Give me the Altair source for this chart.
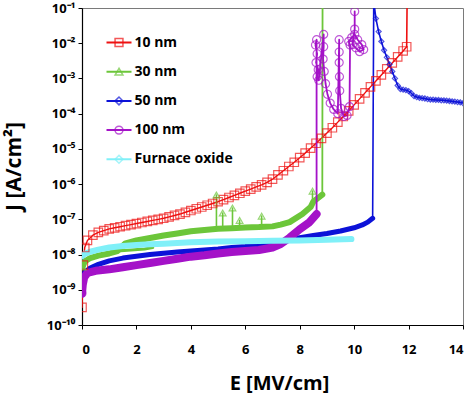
import altair as alt
import pandas as pd

SERIES = ["10 nm", "30 nm", "50 nm", "100 nm", "Furnace oxide"]
COLORS = ["#EE1111", "#6CC63A", "#0C12D8", "#A412C8", "#80F0F8"]
SHAPES = ["square", "triangle-up", "diamond", "circle", "diamond"]
MARK_SIZE = [72, 45, 26, 65, 20]

X_TICKS = list(range(0, 15))
Y_TICKS = [1e-10, 1e-9, 1e-8, 1e-7, 1e-6, 1e-5, 1e-4, 1e-3, 1e-2, 1e-1]

# 10 nm (log10 J)
RED_E = [0.0, 0.05, 0.1, 0.2, 0.4, 0.6, 0.8, 1.0, 1.2, 1.4, 1.6, 1.8, 2.0, 2.2, 2.4, 2.6, 2.8,
         3.0, 3.2, 3.4, 3.6, 3.8, 4.0, 4.2, 4.4, 4.6, 4.8, 5.0, 5.2, 5.4, 5.6, 5.8, 6.0, 6.2,
         6.4, 6.6, 6.8, 7.0, 7.2, 7.4, 7.6, 7.8, 8.0, 8.2, 8.4, 8.6, 8.8, 9.0, 9.2, 9.4, 9.6,
         9.8, 10.0, 10.2, 10.4, 10.6, 10.8, 11.0, 11.2, 11.4, 11.6, 11.8, 11.93]
RED_LOGJ = [-9.5, -8.3, -7.8, -7.6, -7.45, -7.37, -7.32, -7.27, -7.24, -7.21, -7.18, -7.15,
            -7.12, -7.09, -7.06, -7.03, -7.0, -6.97, -6.93, -6.89, -6.85, -6.8, -6.75, -6.7,
            -6.65, -6.6, -6.55, -6.5, -6.44, -6.38, -6.32, -6.26, -6.2, -6.14, -6.08, -6.02,
            -5.95, -5.86, -5.74, -5.62, -5.5, -5.38, -5.25, -5.12, -4.98, -4.84, -4.7, -4.55,
            -4.4, -4.24, -4.08, -3.92, -3.75, -3.58, -3.41, -3.24, -3.07, -2.9, -2.73, -2.56,
            -2.39, -2.22, -2.1]
RED_BD_E = [11.93, 11.95]
RED_BD_LOGJ = [-2.1, -0.5]

# 30 nm
GREEN_E = [0.02, 0.1, 0.3, 0.6, 1.0, 1.3, 1.6, 2.0, 2.5, 3.0, 3.5, 4.0, 4.5, 5.0, 5.5, 6.0,
           6.5, 7.0, 7.3, 7.63, 8.1, 8.4, 8.5, 8.7, 8.83]
GREEN_LOGJ = [-8.35, -8.2, -8.1, -8.03, -7.97, -7.9, -7.68, -7.6, -7.53, -7.46, -7.4, -7.34,
              -7.3, -7.27, -7.25, -7.23, -7.22, -7.2, -7.15, -7.08, -6.85, -6.65, -6.5,
              -6.38, -6.3]
GREEN_LOW_E = [1.3, 1.8, 2.3, 2.6]
GREEN_LOW_LOGJ = [-7.9, -7.87, -7.84, -7.8]
SPIKE_E = [4.94, 5.17, 5.53, 5.79, 6.6, 8.47]
SPIKE_BASE = [-7.27, -7.26, -7.25, -7.24, -7.21, -6.55]
SPIKE_TOP = [-6.31, -6.82, -6.68, -7.03, -6.91, -6.2]
GREEN_BD_E = [8.83, 8.84]
GREEN_BD_LOGJ = [-6.3, -0.5]

# 50 nm
BLUE_E = [0.02, 0.1, 0.3, 0.6, 1.0, 1.5, 2.0, 2.5, 3.0, 3.5, 4.0, 4.5, 5.0, 5.5, 6.0, 6.5,
          7.0, 7.5, 8.0, 8.5, 9.0, 9.5, 10.0, 10.3, 10.5, 10.68]
BLUE_LOGJ = [-8.8, -8.5, -8.38, -8.28, -8.18, -8.1, -8.05, -8.0, -7.96, -7.93, -7.9, -7.87,
             -7.84, -7.8, -7.77, -7.73, -7.68, -7.6, -7.52, -7.46, -7.4, -7.33, -7.24,
             -7.16, -7.08, -6.97]
BLUE_BD_E = [10.68, 10.72, 10.8, 10.9, 11.0, 11.1, 11.2, 11.3, 11.4, 11.5, 11.6, 11.7,
             11.8, 11.9, 12.0, 12.1, 12.2, 12.3, 12.4, 12.5, 12.6, 12.7, 12.8, 12.9, 13.0,
             13.1, 13.2, 13.3, 13.4, 13.5, 13.6, 13.7, 13.8, 13.9, 14.0]
BLUE_BD_LOGJ = [-6.97, -0.8, -1.3, -1.67, -1.95, -2.2, -2.4, -2.6, -2.8, -3.0, -3.2, -3.3,
                -3.32, -3.33, -3.36, -3.42, -3.5, -3.53, -3.55, -3.56, -3.57, -3.59, -3.6,
                -3.6, -3.61, -3.61, -3.62, -3.62, -3.63, -3.64, -3.65, -3.66, -3.67, -3.68,
                -3.7]

# 100 nm
PURPLE_E = [0.0, 0.03, 0.08, 0.2, 0.5, 1.0, 1.5, 2.0, 2.5, 3.0, 3.5, 4.0, 4.5, 5.0, 5.5,
            6.0, 6.5, 7.0, 7.3, 7.63, 8.0, 8.36, 8.62]
PURPLE_LOGJ = [-9.1, -8.85, -8.65, -8.52, -8.46, -8.42, -8.36, -8.3, -8.24, -8.18, -8.12,
               -8.06, -8.02, -7.97, -7.93, -7.9, -7.87, -7.8, -7.7, -7.52, -7.28, -7.08,
               -6.85]
PURPLE_BD_E = [8.62, 8.62, 8.58, 8.64, 8.60, 8.68, 8.64, 8.70, 8.88, 8.88, 8.86, 8.90,
               8.95, 9.02, 9.12, 9.25, 9.40, 9.45, 9.45, 9.45, 9.46, 9.47, 9.52, 9.62,
               9.74, 9.83, 9.85, 9.80, 9.91, 10.02, 10.13, 10.28, 10.35, 10.20, 10.06,
               9.94, 10.02, 10.02]
PURPLE_BD_LOGJ = [-6.85, -1.9, -2.05, -2.3, -2.55, -2.75, -2.95, -3.05, -1.75, -2.1, -2.45,
                  -2.8, -3.15, -3.45, -3.7, -3.88, -4.0, -1.9, -2.25, -2.55, -2.95, -3.35,
                  -3.85, -4.08, -4.05, -3.8, -2.05, -1.95, -1.84, -1.75, -1.9, -2.04,
                  -2.18, -2.24, -2.13, -2.04, -1.6, -1.1]

# Furnace oxide
CYAN_E = [0.0, 0.1, 0.3, 0.6, 1.0, 1.5, 2.0, 2.5, 3.0, 3.5, 4.0, 5.0, 6.0, 7.0, 8.0, 9.0, 9.9]
CYAN_LOGJ = [-8.05, -7.98, -7.92, -7.86, -7.8, -7.76, -7.73, -7.71, -7.69, -7.67, -7.65,
             -7.63, -7.62, -7.61, -7.6, -7.58, -7.56]

rows = []
seg_id = [0]


def add(series_idx, es, ls, width, marks):
    assert len(es) == len(ls)
    seg_id[0] += 1
    for k, (e, l) in enumerate(zip(es, ls)):
        rows.append({
            "series": SERIES[series_idx],
            "pt": SERIES[series_idx] + " ",
            "seg": seg_id[0],
            "i": len(rows),
            "E": e,
            "J": 10 ** l,
            "w": width,
            "m": bool(marks[k]) if isinstance(marks, list) else bool(marks),
            "sz": MARK_SIZE[series_idx],
        })


add(0, RED_E, RED_LOGJ, 1.4, True)
add(0, RED_BD_E, RED_BD_LOGJ, 1.6, False)
add(1, GREEN_E, GREEN_LOGJ, 6, [k == 0 for k in range(len(GREEN_E))])
add(1, GREEN_LOW_E, GREEN_LOW_LOGJ, 3, False)
for e, b, t in zip(SPIKE_E, SPIKE_BASE, SPIKE_TOP):
    add(1, [e, e], [b, t], 1.6, [False, True])
add(1, GREEN_BD_E, GREEN_BD_LOGJ, 1.8, False)
add(2, BLUE_E, BLUE_LOGJ, 5, False)
add(2, BLUE_BD_E, BLUE_BD_LOGJ, 1.6, [k >= 2 for k in range(len(BLUE_BD_E))])
add(3, PURPLE_E, PURPLE_LOGJ, 8, [k == 0 for k in range(len(PURPLE_E))])
add(3, PURPLE_BD_E, PURPLE_BD_LOGJ, 1.8, [k >= 1 for k in range(len(PURPLE_BD_E))])
add(4, CYAN_E, CYAN_LOGJ, 6, False)

df = pd.DataFrame(rows)

FONT = "Open Sans"

x_enc = alt.X("E:Q", scale=alt.Scale(domain=[0, 14], nice=False),
              axis=alt.Axis(values=X_TICKS, title="E [MV/cm]",
                            labelExpr="datum.value % 2 == 0 ? datum.label : ''",
                            labelFont=FONT, labelFontSize=13, labelFontWeight="bold",
                            labelPadding=14, titleFont=FONT, titleFontSize=20,
                            titleFontWeight="bold", titleBaseline="middle",
                            titleX=197, titleY=58))
y_enc = alt.Y("J:Q", scale=alt.Scale(type="log", domain=[1e-10, 1e-1], nice=False),
              axis=alt.Axis(values=Y_TICKS, title="J [A/cm²]",
                            labelExpr="'10' + ['⁻¹','⁻²','⁻³','⁻⁴','⁻⁵','⁻⁶','⁻⁷','⁻⁸','⁻⁹','⁻¹⁰'][round(-log(datum.value)/LN10) - 1]",
                            labelFont=FONT, labelFontSize=13, labelFontWeight="bold",
                            labelPadding=3, titleFont=FONT, titleFontSize=21,
                            titleFontWeight="bold", titleBaseline="middle",
                            titleX=-68, titleY=158))

base = alt.Chart(df)

lines = base.mark_line(clip=True, strokeCap="round", strokeJoin="round").encode(
    x=x_enc, y=y_enc,
    color=alt.Color("series:N", scale=alt.Scale(domain=SERIES, range=COLORS),
                    legend=alt.Legend(orient="none", legendX=23.5, legendY=20.5, title=None,
                                      symbolType="stroke", symbolSize=625,
                                      symbolStrokeWidth=2, labelFont=FONT,
                                      labelFontSize=14, labelFontWeight="bold",
                                      labelOffset=2, clipHeight=28, rowPadding=1.2,
                                      padding=0)),
    detail="seg:N",
    order="i:Q",
    strokeWidth=alt.StrokeWidth("w:Q", scale=None),
)

PT = [s + " " for s in SERIES]
pt_legend = alt.Legend(orient="none", legendX=30, legendY=20.5, title=None,
                       symbolSize=62, symbolStrokeWidth=1.5, symbolFillColor="white",
                       labelFont=FONT, labelFontSize=14, labelFontWeight="bold",
                       labelExpr="''", clipHeight=28, rowPadding=1.2, padding=0)
points = base.transform_filter("datum.m").mark_point(clip=True, filled=False,
                                                     strokeWidth=1.2).encode(
    x="E:Q", y="J:Q",
    shape=alt.Shape("pt:N", scale=alt.Scale(domain=PT, range=SHAPES), legend=pt_legend),
    stroke=alt.Stroke("pt:N", scale=alt.Scale(domain=PT, range=COLORS), legend=pt_legend),
    size=alt.Size("sz:Q", scale=None),
)

chart = alt.layer(lines, points).properties(
    width=381, height=317,
    autosize=alt.AutoSizeParams(type="none"),
    padding={"left": 82, "top": 8, "right": 11, "bottom": 75},
).configure_view(stroke="#7a7a7a", strokeWidth=1).configure_axis(
    grid=False, domainColor="black", tickColor="black", tickSize=4, domainWidth=1.2,
    labelColor="black", titleColor="black",
)

chart.save("out.html", embed_options={"renderer": "svg", "actions": False})
